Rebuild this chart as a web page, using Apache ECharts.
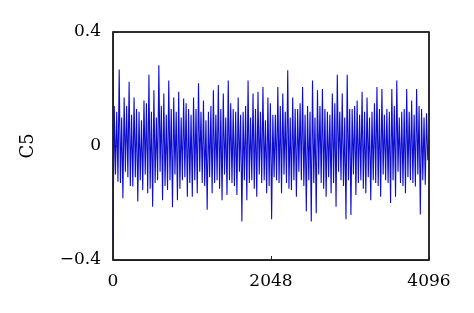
<!DOCTYPE html>
<html><head><meta charset="utf-8">
<script src="https://cdn.jsdelivr.net/npm/echarts@6/dist/echarts.min.js"></script>
<style>html,body{margin:0;padding:0;background:#fff}#c{width:474px;height:313px}</style>
</head><body><div id="c"></div>
<script>
// Signal C5 left to right: each cycle is low, high, low2, high2
var lows = [-0.33,-0.125,-0.183,-0.11,-0.142,-0.195,-0.154,-0.166,-0.213,-0.12,-0.19,-0.154,-0.215,-0.19,-0.12,-0.178,
  -0.178,-0.166,-0.13,-0.224,-0.166,-0.12,-0.19,-0.172,-0.13,-0.172,-0.265,-0.19,-0.12,-0.178,-0.13,-0.166,
  -0.257,-0.12,-0.166,-0.13,-0.154,-0.178,-0.12,-0.23,-0.265,-0.236,-0.13,-0.178,-0.166,-0.213,-0.12,-0.257,
  -0.242,-0.172,-0.12,-0.166,-0.19,-0.13,-0.178,-0.12,-0.2,-0.178,-0.13,-0.166,-0.12,-0.142,-0.24,-0.136];
var highs = [0.14,0.268,0.17,0.225,0.17,0.12,0.16,0.25,0.196,0.283,0.184,0.23,0.17,0.19,0.167,0.13,
  0.17,0.22,0.16,0.12,0.196,0.214,0.184,0.23,0.13,0.17,0.12,0.23,0.184,0.19,0.207,0.17,
  0.11,0.207,0.184,0.266,0.17,0.13,0.207,0.14,0.23,0.196,0.2,0.12,0.184,0.25,0.184,0.25,
  0.13,0.16,0.19,0.17,0.12,0.207,0.2,0.13,0.2,0.23,0.12,0.2,0.16,0.2,0.13,0.115];
var lows2 = [-0.10,-0.13,-0.09,-0.14,-0.11,-0.12,-0.10,-0.15,-0.13,-0.09,-0.14,-0.12,-0.10,-0.15,-0.11,-0.13,
  -0.12,-0.09,-0.14,-0.11,-0.13,-0.15,-0.10,-0.12,-0.14,-0.09,-0.12,-0.13,-0.15,-0.10,-0.12,-0.14,
  -0.11,-0.13,-0.10,-0.15,-0.12,-0.09,-0.14,-0.12,-0.13,-0.10,-0.15,-0.11,-0.13,-0.09,-0.14,-0.12,
  -0.10,-0.13,-0.15,-0.11,-0.12,-0.14,-0.10,-0.13,-0.12,-0.09,-0.14,-0.11,-0.13,-0.10,-0.12,-0.05];
var highs2 = [0.12,0.10,0.14,0.11,0.13,0.09,0.15,0.12,0.10,0.14,0.11,0.13,0.12,0.10,0.15,0.11,
  0.13,0.12,0.09,0.14,0.11,0.13,0.10,0.15,0.12,0.11,0.14,0.10,0.13,0.12,0.09,0.15,
  0.11,0.14,0.12,0.10,0.13,0.15,0.11,0.12,0.10,0.14,0.13,0.11,0.15,0.12,0.10,0.13,
  0.14,0.11,0.12,0.10,0.15,0.13,0.11,0.12,0.14,0.10,0.13,0.12,0.11,0.14,0.10,0.02];
var xMax = 4096;
var xTicks = [0, 2048, 4096];
var yTicks = [-0.4, 0, 0.4];
var yName = 'C5';

var values = [];
for (var k = 0; k < lows.length; k++) {
  values.push(lows[k]); values.push(highs[k]); values.push(lows2[k]); values.push(highs2[k]);
}
var step = xMax / (values.length - 1);
var data = values.map(function (v, i) { return [i * step, v]; });

// frame of the plot, traced along the axis extremes
var x0 = xTicks[0], x1 = xTicks[xTicks.length - 1], y0 = yTicks[0], y1 = yTicks[yTicks.length - 1];
var frame = [[x0, y0], [x1, y0], [x1, y1], [x0, y1], [x0, y0]];

var font = 'DejaVu Serif';
var chart = echarts.init(document.getElementById('c'));
function yFmt(v) { if (Math.abs(v) < 1e-9) return '0'; return (v < 0 ? '\u2212' : '') + Math.abs(v).toFixed(1); }
function xFmt(v) { return String(Math.round(v)); }
chart.setOption({
  animation: false,
  grid: {left: 113, right: 45, top: 32, bottom: 53, show: true, borderColor: '#222', borderWidth: 1.5},
  xAxis: {
    type: 'value', min: x0, max: x1, interval: xTicks[1] - xTicks[0],
    axisLine: {show: true, onZero: false, lineStyle: {color: '#222', width: 1}},
    axisTick: {show: true, inside: true, length: 4, lineStyle: {color: '#222'}},
    axisLabel: {color: '#000', fontFamily: font, fontSize: 17, margin: 13, formatter: xFmt},
    splitLine: {show: false}
  },
  yAxis: {
    type: 'value', min: y0, max: y1, interval: yTicks[1] - yTicks[0],
    name: yName, nameLocation: 'middle', nameGap: 76, nameRotate: 90,
    nameTextStyle: {color: '#000', fontFamily: font, fontSize: 18},
    axisLine: {show: true, onZero: false, lineStyle: {color: '#222', width: 1}},
    axisTick: {show: true, inside: true, length: 4, lineStyle: {color: '#222'}},
    axisLabel: {color: '#000', fontFamily: font, fontSize: 17, margin: 12, formatter: yFmt},
    splitLine: {show: false}
  },
  series: [{
    type: 'line', data: data, showSymbol: false, symbol: 'none',
    lineStyle: {color: '#0c0cd2', width: 1.1}, z: 2
  }, {
    type: 'line', data: frame, showSymbol: false, symbol: 'none', clip: false, silent: true,
    lineStyle: {color: '#222', width: 1.5}, z: 5
  }]
});
</script></body></html>
